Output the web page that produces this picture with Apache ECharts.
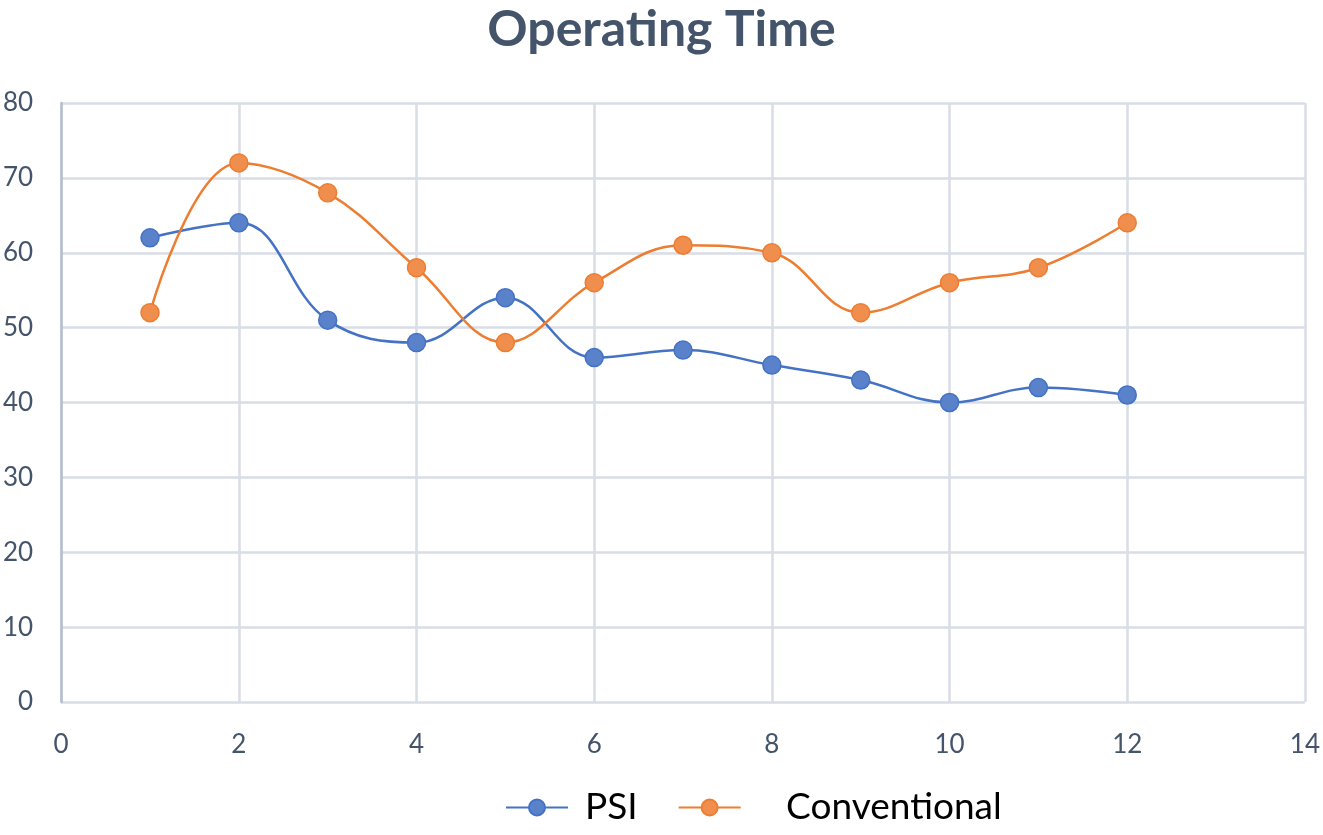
<!DOCTYPE html>
<html><head><meta charset="utf-8">
<script src="https://cdn.jsdelivr.net/npm/echarts@6/dist/echarts.min.js"></script>
<style>html,body{margin:0;padding:0;background:#fff}#c{width:1323px;height:835px}</style>
</head><body><div id="c"></div>
<script>
const xValues = [1,2,3,4,5,6,7,8,9,10,11,12];
const psi = [62,64,51,48,54,46,47,45,43,40,42,41];
const conventional = [52,72,68,58,48,56,61,60,52,56,58,64];
const seriesNames = ['PSI','Conventional'];
const titleText = 'Operating Time';

const chart = echarts.init(document.getElementById('c'));
const font = 'Lato, "Open Sans", sans-serif';
function mk(name, vals, color, fill){
  return {
    name, type:'line', smooth:0.4,
    data: xValues.map((x,i)=>[x, vals[i]]),
    symbol:'circle', symbolSize:18,
    lineStyle:{color, width:2.5},
    itemStyle:{color: fill, borderColor:color, borderWidth:1.5},
    z: 3
  };
}
chart.setOption({
  animation:false,
  title:{text:titleText, left:'center', top:0,
    textStyle:{fontFamily:font, fontSize:50, fontWeight:'bold', color:'#44546A'}},
  grid:{left:61, right:18, top:103, bottom:133},
  legend:{bottom:4, left:500, itemWidth:62, itemHeight:20, itemGap:40,
    textStyle:{fontFamily:font, fontSize:37, color:'#000', padding:[0,0,0,12]},
    formatter: n => n === 'Conventional' ? '   ' + n : n,
    data:seriesNames},
  xAxis:{type:'value', min:0, max:14, interval:2,
    axisLine:{show:false}, axisTick:{show:false},
    splitLine:{show:true, lineStyle:{color:'#D9DEE6', width:2.5}},
    axisLabel:{fontFamily:font, fontSize:26, color:'#44546A', margin:30}},
  yAxis:{type:'value', min:0, max:80, interval:10,
    axisLine:{show:true, onZero:false, lineStyle:{color:'#B4BECC', width:2.5}}, axisTick:{show:false},
    splitLine:{show:true, lineStyle:{color:'#D9DEE6', width:2.5}},
    axisLabel:{fontFamily:font, fontSize:26, color:'#44546A', margin:28}},
  series:[mk(seriesNames[0], psi, '#4472C4', '#5A82CB'), mk(seriesNames[1], conventional, '#ED7D31', '#F08E4E')]
});
</script></body></html>
